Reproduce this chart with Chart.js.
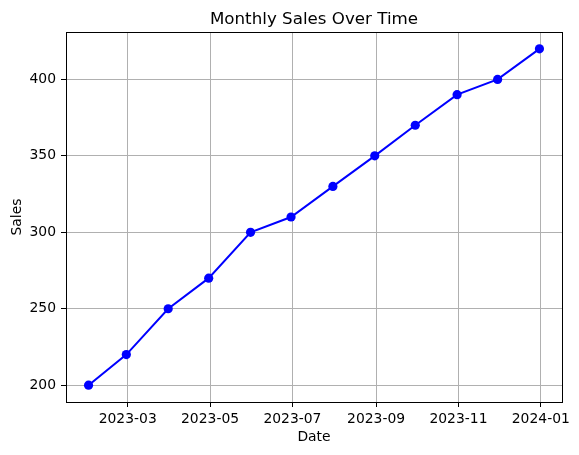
<!DOCTYPE html>
<html>
<head>
<meta charset="utf-8">
<script src="https://cdn.jsdelivr.net/npm/chart.js@4/dist/chart.umd.min.js"></script>
<style>
  html, body { margin: 0; padding: 0; background: #fff; }
  #wrap { width: 579px; height: 455px; }
</style>
</head>
<body>
<div id="wrap"><canvas id="chart" width="579" height="455"></canvas></div>
<script>
// -- Data --------------------------------------------------------------
const DATES   = ["2023-01-31","2023-02-28","2023-03-31","2023-04-30","2023-05-31","2023-06-30",
                 "2023-07-31","2023-08-31","2023-09-30","2023-10-31","2023-11-30","2023-12-31"];
const SALES   = [200, 220, 250, 270, 300, 310, 330, 350, 370, 390, 400, 420];
const X_TICKS = ["2023-03","2023-05","2023-07","2023-09","2023-11","2024-01"];
const Y_TICKS = [200, 250, 300, 350, 400];

const TITLE  = "Monthly Sales Over Time";
const XLABEL = "Date";
const YLABEL = "Sales";

// -- Helpers -----------------------------------------------------------
const DAY = 864e5;
const toDay = s => { const [y, m, d] = s.split("-").map(Number); return Date.UTC(y, m - 1, d || 1) / DAY; };
const fmtMonth = v => new Date(Math.round(v) * DAY).toISOString().slice(0, 7);

const xs = DATES.map(toDay);
const xPad = (xs[xs.length - 1] - xs[0]) * 0.05;
const yPad = (Math.max(...SALES) - Math.min(...SALES)) * 0.05;

const FONT = "DejaVu Sans";
const tickFont = { family: FONT, size: 13.9 };

// frame + texts, matplotlib style
const decor = {
  id: "decor",
  afterDatasetsDraw(chart) {
    const { ctx, chartArea: a } = chart;
    ctx.save();
    ctx.strokeStyle = "#000";
    ctx.lineWidth = 1;
    ctx.strokeRect(a.left + 0.5, a.top + 0.5, a.right - a.left, a.bottom - a.top);
    ctx.restore();
  },
  afterDraw(chart) {
    const { ctx, chartArea: a } = chart;
    const cx = (a.left + a.right) / 2, cy = (a.top + a.bottom) / 2;
    ctx.save();
    ctx.fillStyle = "#000";
    ctx.textAlign = "center";
    ctx.textBaseline = "alphabetic";
    ctx.font = `16.7px "${FONT}"`;
    ctx.fillText(TITLE, cx, a.top - 8.5);
    ctx.font = `13.9px "${FONT}"`;
    ctx.textBaseline = "middle";
    ctx.fillText(XLABEL, cx, 437);
    ctx.translate(17, cy);
    ctx.rotate(-Math.PI / 2);
    ctx.fillText(YLABEL, 0, 0);
    ctx.restore();
  }
};

new Chart(document.getElementById("chart"), {
  type: "line",
  data: {
    datasets: [{
      data: xs.map((x, i) => ({ x, y: SALES[i] })),
      borderColor: "#0000ff",
      backgroundColor: "#0000ff",
      borderWidth: 2,
      pointRadius: 4.6,
      pointHoverRadius: 4.6,
      pointBorderWidth: 0,
      tension: 0,
      fill: false
    }]
  },
  options: {
    responsive: false,
    animation: false,
    devicePixelRatio: 1,
    layout: { padding: { left: 0, top: 32, right: 17, bottom: 0 } },
    plugins: { legend: { display: false }, tooltip: { enabled: false }, title: { display: false } },
    scales: {
      x: {
        type: "linear",
        min: xs[0] - xPad,
        max: xs[xs.length - 1] + xPad,
        afterBuildTicks: s => { s.ticks = X_TICKS.map(t => ({ value: toDay(t) })); },
        afterFit: s => { s.height = 53; },
        grid: { color: "#b0b0b0", lineWidth: 1, tickColor: "#000", tickLength: 5, drawTicks: true },
        border: { display: false },
        ticks: { color: "#000", font: tickFont, padding: 4, maxRotation: 0, autoSkip: false, callback: v => fmtMonth(v) }
      },
      y: {
        min: Math.min(...SALES) - yPad,
        max: Math.max(...SALES) + yPad,
        afterBuildTicks: s => { s.ticks = Y_TICKS.map(v => ({ value: v })); },
        afterFit: s => { s.width = 66; },
        grid: { color: "#b0b0b0", lineWidth: 1, tickColor: "#000", tickLength: 5, drawTicks: true },
        border: { display: false },
        ticks: { color: "#000", font: tickFont, padding: 5, autoSkip: false }
      }
    }
  },
  plugins: [decor]
});
</script>
</body>
</html>
